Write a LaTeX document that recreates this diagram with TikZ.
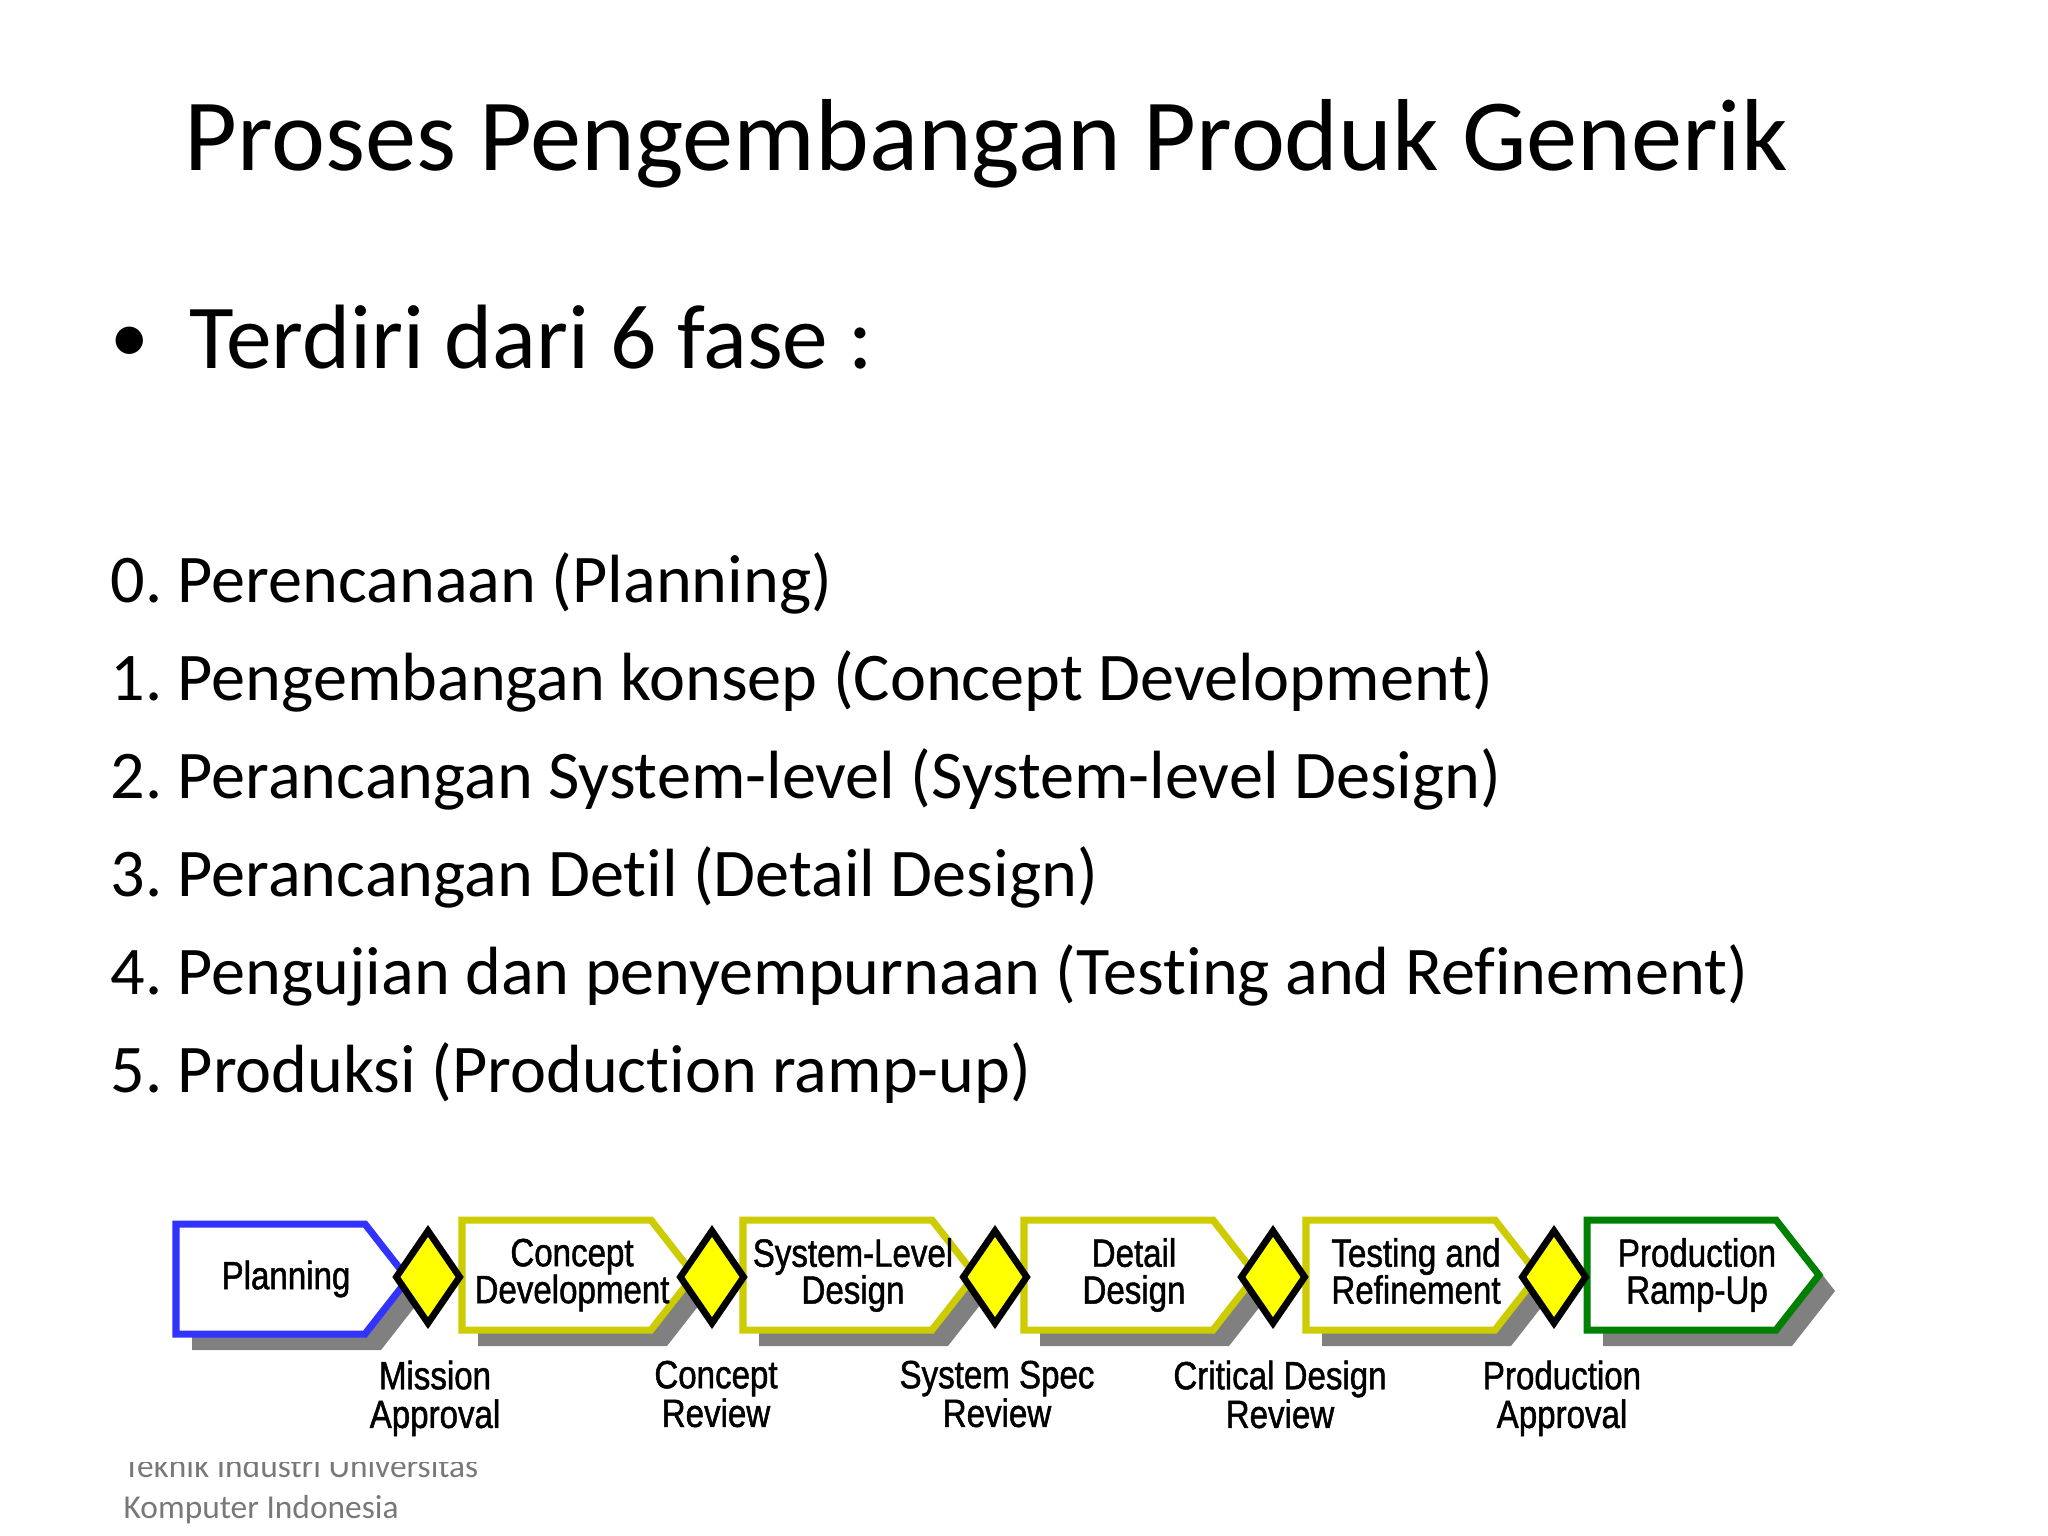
\documentclass[tikz,border=0pt]{standalone}
\usepackage{fontspec}
\setmainfont{Carlito}[Ligatures=NoCommon]
\newfontfamily\arialf{Liberation Sans}[FakeStretch=0.84,FakeBold=1.2]
\usetikzlibrary{shapes.geometric}
\definecolor{pblue}{RGB}{51,51,255}
\definecolor{pyel}{RGB}{204,204,0}
\definecolor{pgreen}{RGB}{0,128,0}
\definecolor{dyel}{RGB}{255,255,0}
\definecolor{shad}{RGB}{128,128,128}
\definecolor{foot}{RGB}{120,120,120}
\tikzset{
  txt/.style={anchor=base west,inner sep=0pt},
  boxlbl/.style={align=center,font=\arialf\fontsize{11.2}{10.5}\selectfont,inner sep=0pt},
  gate/.style={diamond,draw=black,fill=dyel,line width=1.9pt,minimum width=0.66cm,minimum height=0.95cm,inner sep=0pt,aspect=0.7},
  gatelbl/.style={align=center,anchor=north,font=\arialf\fontsize{11.2}{11}\selectfont,inner sep=0pt}
}
\newcommand\phasebox[5]{% name, left, color, text, top
  \fill[shad] (#2+16,#5+16) -- ++(189,0) -- ++(43,55) -- ++(-43,55) -- ++(-189,0) -- cycle;
  \draw[#3,line width=2pt,fill=white,line join=miter] (#2,#5) -- ++(189,0) -- ++(43,55) -- ++(-43,55) -- ++(-189,0) -- cycle;
  \node[boxlbl] (#1) at (#2+110,#5+55) {#4\vphantom{g}};
}
\begin{document}
\frenchspacing
\begin{tikzpicture}[x=0.01cm,y=-0.01cm]
\useasboundingbox (0,0) rectangle (2048,1536);
\node[txt,font=\fontsize{29.1}{34}\selectfont] (title) at (184,170) {Proses Pengembangan Produk Generik};
\node[txt,font=\fontsize{22}{34}\selectfont] (bul) at (110,362) {•};
\node[txt,font=\fontsize{26}{34}\selectfont] (sub) at (189,368) {Terdiri dari 6 fase :};
\foreach \t [count=\i from 0] in {0. Perencanaan (Planning),1. Pengembangan konsep (Concept Development),2. Perancangan System-level (System-level Design),3. Perancangan Detil (Detail Design),4. Pengujian dan penyempurnaan (Testing and Refinement),5. Produksi (Production ramp-up)}
  \node[txt,font=\fontsize{19.4}{26}\selectfont] (item\i) at (110,602+98*\i) {\t};
% footer
\node[txt,font=\fontsize{9.5}{12}\selectfont,text=foot] (f1) at (123,1477) {Teknik Industri Universitas};
\node[txt,font=\fontsize{9.5}{12}\selectfont,text=foot] (f2) at (123,1518) {Komputer Indonesia};
\fill[white] (100,1200) rectangle (1900,1462);
% phases
\phasebox{p0}{176}{pblue}{Planning}{1224}
\phasebox{p1}{462}{pyel}{Concept\\Development}{1220}
\phasebox{p2}{743}{pyel}{System-Level\\Design}{1220}
\phasebox{p3}{1024}{pyel}{Detail\\Design}{1220}
\phasebox{p4}{1306}{pyel}{Testing and\\Refinement}{1220}
\phasebox{p5}{1587}{pgreen}{Production\\Ramp-Up}{1220}
\node[gate] (g1) at (428,1277) {};
\node[gate] (g2) at (712,1277) {};
\node[gate] (g3) at (995,1277) {};
\node[gate] (g4) at (1273,1277) {};
\node[gate] (g5) at (1554,1277) {};
\node[gatelbl] (l1) at (435,1360) {Mission\\Approval};
\node[gatelbl] (l2) at (716,1360) {Concept\\Review};
\node[gatelbl] (l3) at (997,1360) {System Spec\\Review};
\node[gatelbl] (l4) at (1280,1360) {Critical Design\\Review};
\node[gatelbl] (l5) at (1562,1360) {Production\\Approval};
\end{tikzpicture}
\end{document}
